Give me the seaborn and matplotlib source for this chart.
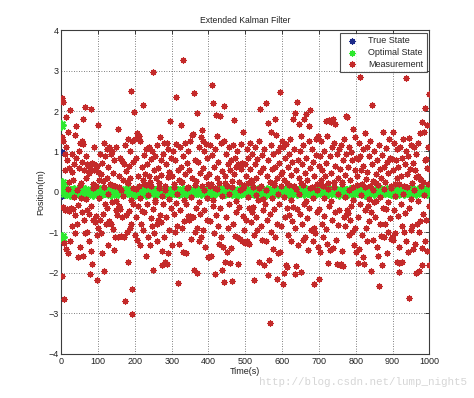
import numpy as np
import pandas as pd
import matplotlib
matplotlib.use("Agg")
import matplotlib.pyplot as plt
import seaborn as sns

meas_000 = [(1,1.30),(2,2.31),(3,1.36),(3,-2.07),(4,1.25),(5,-0.38),(6,2.22),(7,-2.63),(8,-1.25),(9,0.55),
            (10,0.95),(11,-0.45),(12,1.10),(13,1.84),(14,-1.40),(15,0.80),(16,-0.42),(18,-1.50),(19,1.49),(20,0.60),
            (21,-0.48),(22,0.25),(24,2.02),(25,-1.20),(26,-0.40),(28,0.50),(29,-0.85),(30,0.95),(31,-0.42),(33,0.30),
            (35,0.70),(36,1.40),(37,-0.58),(38,-1.02),(40,1.63),(41,0.85),(42,-0.80),(44,0.05),(45,-0.32),(46,-1.60),
            (47,1.00),(48,0.60),(50,-1.35),(51,0.18),(52,1.20),(53,-0.15),(55,1.25),(56,-0.50),(57,0.75),(58,-1.58),
            (59,1.80),(60,1.18),(61,-0.70),(62,0.55),(64,2.09),(65,-1.02),(66,0.90),(68,0.35),(69,-0.45),(70,0.70),
            (71,-0.98),(73,0.65),(74,-0.55),(75,-1.20),(76,0.48),(78,-2.03),(79,0.60),(80,-0.35),(81,2.06),(82,-1.45),
            (83,-1.79),(84,0.72),(85,0.20),(86,-0.70),(88,0.55),(89,1.10),(90,0.70),(91,-0.75),(93,0.15),(94,-0.60),
            (96,-2.18),(97,0.65),(98,-1.05),(99,0.50),(100,1.65),(100,-0.90)]
meas_100 = [(102,0.30),(104,-0.68),(106,0.95),(107,-1.02),(109,0.45),(110,-1.50),(111,0.72),(113,-0.55),(115,1.20),(116,-1.95),
            (117,0.12),(118,-0.30),(120,0.88),(121,-0.78),(123,1.05),(124,0.35),(125,-0.40),(127,-1.30),(128,0.62),(130,1.12),
            (131,-0.72),(133,0.20),(134,-0.80),(136,0.95),(137,-0.25),(139,1.02),(140,-0.92),(141,0.48),(143,-1.42),(144,0.78),
            (145,-1.12),(147,0.15),(148,-0.45),(150,1.10),(151,-0.58),(153,1.56),(154,-1.10),(156,0.40),(157,-0.35),(159,0.85),
            (160,-0.42),(162,0.05),(163,-1.08),(165,0.76),(166,-0.62),(168,0.30),(170,-1.12),(171,0.70),(172,-2.70),(174,1.15),
            (175,-0.58),(177,0.52),(178,-1.00),(180,0.22),(181,1.30),(182,-1.74),(183,-0.48),(185,0.65),(186,-0.90),(187,1.00),
            (188,0.35),(190,2.50),(190,-0.80),(191,1.25),(192,-2.40),(192,-3.02),(194,0.10),(195,-0.30),(196,0.75),(198,1.97),
            (199,-1.05),(200,1.30)]
meas_200 = [(202,-0.62),(203,0.85),(205,1.45),(206,-1.18),(208,0.40),(209,-0.35),(211,1.38),(212,0.15),(214,-1.30),(215,1.25),
            (216,-0.78),(218,0.62),(219,-0.48),(221,0.30),(222,2.14),(223,-0.95),(225,0.92),(226,-0.50),(227,0.45),(229,-1.58),
            (230,0.18),(231,1.05),(233,-0.30),(234,0.70),(236,-1.12),(237,0.40),(239,1.10),(240,-1.30),(241,0.25),(243,-0.65),
            (244,0.82),(246,-0.85),(247,1.00),(248,2.97),(249,-0.42),(250,-1.92),(251,0.55),(253,-1.02),(254,0.90),(256,-0.20),
            (257,0.35),(259,-0.78),(260,1.15),(261,-1.20),(263,0.60),(264,-0.70),(266,0.10),(267,1.35),(268,-0.58),(270,0.80),
            (271,-0.75),(272,0.42),(274,-1.80),(275,-1.45),(276,0.95),(277,-0.30),(279,1.20),(280,-1.10),(281,0.15),(282,-1.74),
            (284,0.68),(285,-0.62),(286,1.22),(288,-1.77),(289,0.38),(290,-1.50),(291,1.05),(293,-0.95),(294,0.50),(296,1.75),
            (297,-0.40),(299,0.85)]
meas_300 = [(301,0.40),(302,-1.32),(304,1.02),(305,-0.55),(307,0.20),(308,-1.00),(310,0.78),(311,-0.28),(312,2.35),(313,1.18),
            (315,-0.85),(316,0.55),(318,-2.24),(319,0.30),(320,-1.28),(322,1.10),(323,-0.45),(325,1.65),(326,0.62),(327,-0.90),
            (329,0.25),(330,-1.48),(331,3.27),(332,0.90),(334,-0.72),(335,0.45),(337,1.20),(338,-0.30),(340,-1.50),(341,0.72),
            (343,-0.60),(344,1.02),(345,0.12),(347,-0.68),(348,0.55),(350,-0.60),(351,1.25),(353,-1.15),(354,1.41),(356,0.35),
            (357,1.42),(358,-0.62),(360,-1.93),(361,2.45),(362,0.80),(363,-1.00),(365,0.28),(366,-0.40),(368,-1.99),(369,1.96),
            (370,-0.88),(371,0.75),(373,1.10),(374,-1.22),(376,0.48),(377,-0.55),(379,1.35),(380,-1.10),(381,1.53),(382,0.15),
            (384,-0.95),(385,1.25),(386,0.60),(388,-0.45),(389,1.00),(390,-1.35),(392,0.38),(393,1.18),(395,-0.70),(396,0.85),
            (398,-1.60),(399,0.20)]
meas_400 = [(401,-1.60),(402,0.45),(404,1.15),(405,-0.72),(406,0.20),(408,-1.58),(409,0.92),(410,2.63),(411,-0.35),(413,2.20),
            (414,0.62),(415,-1.02),(417,1.05),(418,0.10),(419,-2.03),(420,-0.58),(421,1.90),(422,0.35),(424,1.39),(425,-0.85),
            (427,0.75),(428,-1.28),(429,0.22),(431,1.88),(432,-0.40),(434,1.20),(435,-1.10),(437,-1.93),(438,0.52),(440,-1.35),
            (441,1.25),(442,-2.23),(443,2.12),(444,0.40),(446,-1.73),(447,-0.62),(448,0.95),(450,-1.48),(451,0.15),(452,0.68),
            (454,-0.90),(455,1.10),(457,-0.30),(458,0.55),(459,-1.75),(461,0.80),(462,-1.38),(463,0.28),(465,-2.21),(466,1.15),
            (467,-0.78),(469,0.45),(470,1.78),(471,-1.08),(473,0.85),(474,-0.50),(476,0.62),(477,1.02),(478,-1.12),(480,-1.77),
            (481,0.70),(482,-0.38),(484,0.25),(485,-1.15),(487,1.18),(488,0.58),(490,-1.22),(491,0.72),(493,-0.60),(494,0.10),
            (495,1.47),(496,-0.95),(498,0.70),(499,-1.25)]
meas_500 = [(501,0.40),(502,-0.68),(504,1.05),(505,-1.20),(506,0.22),(508,0.85),(509,-0.40),(510,-1.28),(512,0.58),(513,1.20),
            (515,-0.75),(516,0.30),(518,-0.50),(519,0.95),(520,-0.38),(522,0.12),(523,-1.05),(525,-2.17),(526,0.70),(527,1.10),
            (529,-0.62),(530,0.35),(532,-0.95),(533,0.82),(535,-0.20),(536,1.25),(538,-1.72),(539,2.04),(540,0.50),(542,-0.85),
            (543,0.15),(545,-1.18),(546,0.92),(548,-0.45),(549,0.60),(551,-1.80),(552,1.05),(554,-0.30),(555,2.20),(556,-1.20),
            (558,0.40),(559,-0.70),(561,1.71),(562,-2.04),(563,0.78),(565,-1.68),(566,0.25),(567,-0.55),(568,-3.24),(569,1.15),
            (570,1.47),(571,-0.98),(573,0.58),(574,-1.40),(576,0.95),(577,-0.42),(579,0.18),(580,-1.10),(581,1.81),(582,0.62),
            (583,1.41),(585,-0.78),(586,0.35),(587,-2.16),(588,1.02),(590,-1.50),(591,0.72),(592,-0.30),(593,2.48),(594,1.10),
            (595,-1.48),(597,0.45),(598,-0.85),(599,1.25)]
meas_600 = [(601,0.50),(602,-2.28),(603,1.12),(605,-1.99),(606,0.30),(607,-0.62),(609,0.85),(610,-1.80),(611,1.18),(612,-0.40),
            (614,-1.85),(615,0.62),(616,-1.05),(618,0.18),(619,0.95),(620,-0.58),(622,1.30),(623,-1.22),(624,0.42),(626,-0.72),
            (627,0.75),(629,1.81),(630,-0.38),(631,0.15),(633,1.05),(634,-2.03),(635,1.96),(636,-0.90),(638,0.55),(639,-1.83),
            (640,-0.42),(641,2.23),(642,0.80),(644,-1.30),(645,0.35),(646,1.67),(648,-0.55),(649,1.00),(651,-1.97),(651,1.38),
            (652,0.22),(654,-0.80),(655,0.68),(657,-1.18),(658,1.15),(659,1.81),(660,-0.30),(662,0.48),(663,-1.10),(665,1.93),
            (666,0.85),(668,-0.65),(669,0.30),(671,-1.42),(672,1.25),(673,1.63),(674,-0.40),(676,2.02),(677,0.60),(679,-0.95),
            (680,1.05),(681,0.12),(683,-1.20),(684,0.75),(686,-2.27),(687,-0.88),(688,0.40),(690,-1.02),(691,0.92),(692,1.32),
            (694,-0.50),(695,0.20),(697,1.38),(698,-1.35),(699,-2.15),(700,0.65)]
meas_700 = [(701,-0.42),(702,0.90),(704,-1.48),(705,0.30),(706,1.25),(708,-0.78),(709,0.55),(711,-1.10),(712,0.15),(714,1.02),
            (715,-0.60),(716,0.40),(718,1.75),(719,-0.92),(720,0.72),(722,1.38),(723,-1.28),(724,0.22),(726,-1.75),(727,-0.35),
            (728,1.78),(729,0.88),(731,-1.42),(732,0.48),(734,1.72),(735,-0.70),(736,1.10),(737,1.80),(739,-1.38),(740,0.25),
            (741,1.22),(743,-0.50),(744,0.65),(745,1.68),(747,-1.18),(748,0.95),(750,-1.77),(751,0.35),(752,-0.82),(754,1.05),
            (755,-0.45),(757,-1.81),(758,0.58),(759,-1.78),(760,1.15),(762,-1.45),(763,0.20),(765,-1.83),(766,0.80),(767,-0.62),
            (769,1.30),(770,-0.85),(771,0.42),(773,-0.58),(774,0.95),(775,1.88),(776,1.85),(777,-0.45),(779,0.62),(780,-0.52),
            (781,1.12),(783,-1.05),(784,0.30),(785,-0.70),(787,0.98),(788,-0.35),(790,0.78),(791,-1.00),(792,1.56),(794,0.12),
            (795,-1.30),(797,0.55),(798,-0.88),(799,1.35)]
meas_800 = [(801,0.85),(802,-1.48),(804,0.40),(805,-0.62),(806,0.82),(807,-1.75),(809,1.20),(810,-1.40),(811,0.88),(812,2.83),
            (813,-0.30),(815,0.55),(816,-1.05),(818,0.20),(819,1.05),(820,-1.60),(821,0.65),(823,-1.78),(824,-0.45),(825,1.45),
            (827,0.32),(828,-0.90),(830,1.10),(831,-1.20),(832,0.50),(834,-0.35),(835,0.90),(837,-0.72),(838,0.15),(840,1.25),
            (841,-1.95),(842,-0.50),(843,2.16),(845,0.70),(846,-1.18),(848,0.28),(849,-0.25),(851,1.02),(852,-0.62),(854,0.45),
            (855,-0.22),(857,-1.35),(858,0.80),(860,-1.58),(861,0.18),(862,-2.32),(864,1.15),(865,-0.80),(866,0.58),(868,-1.08),
            (869,0.35),(871,-1.80),(872,0.92),(873,-0.40),(875,1.49),(876,-1.12),(877,0.62),(879,-0.78),(880,0.25),(882,1.08),
            (883,-0.42),(885,0.75),(886,-1.50),(888,0.48),(889,-1.00),(890,1.30),(892,-0.65),(893,0.85),(895,-1.15),(896,0.10),
            (898,-1.12),(899,0.82),(900,1.49)]
meas_900 = [(901,-1.18),(902,0.55),(904,-0.45),(905,1.20),(906,0.20),(908,-1.02),(909,0.78),(911,-1.72),(912,0.35),(913,1.05),
            (915,-0.60),(916,0.62),(918,-1.35),(919,-1.97),(919,-1.76),(920,1.12),(922,-0.30),(923,0.40),(925,-1.72),(926,0.85),
            (927,-0.85),(929,1.30),(930,-1.00),(931,0.15),(933,0.68),(934,-0.52),(936,1.00),(937,-1.20),(938,2.82),(939,0.45),
            (941,-1.48),(942,0.90),(944,1.33),(945,-0.40),(946,-2.61),(948,0.58),(949,-0.95),(951,1.15),(952,0.22),(954,-0.85),
            (955,0.72),(957,-1.40),(958,1.10),(960,0.55),(961,-1.28),(963,0.95),(964,-1.99),(965,0.38),(967,-0.78),(968,1.20),
            (970,0.40),(971,-1.96),(972,-1.00),(974,0.32),(975,-0.72),(976,1.45),(978,0.30),(979,-1.38),(980,-1.80),(981,1.74),
            (983,0.25),(984,-0.55),(985,1.48),(987,0.78),(988,2.07),(989,-1.20),(990,0.82),(991,-0.70),(993,1.65),(994,-1.45),
            (995,0.60),(997,1.10),(998,2.43),(999,0.58),(1000,-1.80),(1000,-0.35)]
# measurements sitting on top of the green band
meas_mid = [(17,0.08),(34,-0.12),(54,0.22),(67,-0.18),(87,0.10),(103,-0.15),(114,0.28),(126,-0.05),(138,0.18),(149,-0.22),
            (158,0.12),(169,-0.10),(179,0.25),(189,-0.20),(204,0.08),(213,-0.15),(224,0.20),(235,-0.08),(245,0.15),(255,-0.25),
            (265,0.22),(273,-0.10),(283,0.05),(292,-0.18),(306,0.12),(314,-0.05),(324,0.25),(333,-0.20),(342,0.10),(352,-0.12),
            (364,0.18),(375,-0.25),(387,0.05),(397,-0.15),(403,0.15),(412,-0.20),(423,0.08),(436,-0.10),(445,0.22),(456,-0.05),
            (464,0.12),(475,-0.22),(486,0.05),(497,0.18),(507,-0.12),(517,0.25),(528,-0.08),(537,0.10),(547,-0.18),(557,0.05),
            (572,-0.15),(578,0.22),(589,-0.05),(596,0.15),(604,-0.12),(613,0.22),(625,-0.20),(637,0.08),(647,-0.05),(656,0.18),
            (664,-0.22),(675,0.10),(685,-0.15),(696,0.05),(703,0.20),(713,-0.15),(725,0.08),(733,-0.22),(742,0.12),(753,-0.05),
            (764,0.25),(772,-0.12),(782,0.05),(793,-0.20),(803,0.18),(814,-0.08),(826,0.12),(836,-0.18),(847,0.05),(856,0.22),
            (867,-0.12),(878,0.08),(887,-0.25),(897,0.15),(907,-0.10),(917,0.20),(928,-0.05),(940,0.12),(950,-0.18),(959,0.05),
            (969,-0.22),(977,0.15),(986,-0.08),(996,0.20)]

# optimal state: first few estimates, then the narrow band around zero (every 5 s)
opt_head_t = [0, 1, 2]
opt_head_y = [1.65, 0.22, -1.12]
opt_band_y = [0.03,-0.02,0.05,0.01,-0.04,0.02,0.06,-0.01,0.00,0.04,
              -0.03,0.02,0.05,-0.02,0.01,0.03,-0.05,0.04,0.00,0.02,
              0.06,-0.03,0.01,0.04,-0.01,0.03,-0.04,0.02,0.05,0.00,
              -0.02,0.04,0.01,-0.03,0.06,0.02,-0.01,0.03,0.00,-0.04,
              0.05,0.01,-0.02,0.04,0.03,-0.05,0.02,0.00,0.06,-0.01,
              0.02,-0.03,0.04,0.01,-0.02,0.05,0.00,-0.04,0.03,0.02,
              -0.01,0.06,0.02,-0.03,0.01,0.04,-0.02,0.03,0.05,-0.04,
              0.00,0.02,-0.01,0.05,0.03,-0.03,0.04,0.01,-0.02,0.06,
              0.02,-0.04,0.03,0.00,0.05,-0.01,0.02,0.04,-0.03,0.01,
              0.06,0.00,-0.02,0.03,0.01,-0.05,0.04,0.02,-0.01,0.03,
              0.05,-0.02,0.00,0.04,-0.03,0.02,0.06,-0.01,0.03,0.01,
              -0.04,0.05,0.02,-0.02,0.04,0.00,0.03,-0.03,0.06,0.01,
              -0.01,0.02,0.05,-0.04,0.03,0.00,0.04,-0.02,0.01,0.05,
              0.02,-0.03,0.06,0.01,-0.01,0.04,-0.05,0.03,0.00,0.02,
              0.04,-0.02,0.01,0.05,-0.03,0.03,0.00,0.06,-0.01,0.02,
              -0.04,0.03,0.05,0.00,0.02,-0.02,0.04,0.01,-0.03,0.06,
              0.01,0.04,-0.01,0.03,-0.04,0.05,0.02,0.00,0.03,-0.02,
              0.06,0.01,-0.03,0.04,0.02,-0.01,0.05,0.00,-0.02,0.03,
              0.02,-0.04,0.04,0.01,0.06,-0.02,0.03,0.00,-0.01,0.05,
              0.03,0.00,-0.03,0.04,0.02,-0.01,0.05,0.01,-0.02,0.02]

# true state: visible start, the rest hides under the green band (every 20 s)
true_head_t = [1, 2]
true_head_y = [0.99, -0.10]
true_band_y = [0.01,-0.01,0.02,0.00,-0.02,0.01,0.02,-0.01,0.00,0.01,
               -0.02,0.02,0.00,0.01,-0.01,0.02,0.01,-0.02,0.00,0.01,
               0.02,-0.01,0.00,0.01,-0.02,0.02,0.01,0.00,-0.01,0.02,
               0.00,0.01,-0.02,0.02,0.01,-0.01,0.00,0.02,0.01,-0.01,
               0.02,0.00,-0.01,0.01,0.02,-0.02,0.01,0.00,0.01,-0.01]

meas = pd.DataFrame(meas_000 + meas_100 + meas_200 + meas_300 + meas_400 +
                    meas_500 + meas_600 + meas_700 + meas_800 + meas_900 + meas_mid,
                    columns=["t", "y"])
opt = pd.DataFrame({"t": opt_head_t + list(range(5, 1001, 5)),
                    "y": opt_head_y + opt_band_y})
true = pd.DataFrame({"t": true_head_t + list(range(20, 1001, 20)),
                     "y": true_head_y + true_band_y})

sns.set_style("white")
plt.rcParams["font.family"] = ["Liberation Sans", "DejaVu Sans"]

fig = plt.figure(figsize=(4.74, 3.98), dpi=100)
ax = fig.add_axes([0.1293, 0.1106, 0.7764, 0.814])

star = (8, 2, 0)
sns.scatterplot(data=true, x="t", y="y", marker=star, s=16, color="#1c2a8a",
                edgecolor="#1c2a8a", linewidth=0.9, label="True State", ax=ax, zorder=3)
sns.scatterplot(data=opt, x="t", y="y", marker=star, s=38, color="#2ee82e",
                edgecolor="#2ee82e", linewidth=1.6, label="Optimal State", ax=ax, zorder=4)
sns.scatterplot(data=meas, x="t", y="y", marker=star, s=16, color="#c42a2a",
                edgecolor="#c42a2a", linewidth=0.9, label="Measurement", ax=ax, zorder=5)

ax.set_xlim(0, 1000)
ax.set_ylim(-4, 4)
ax.set_xticks(np.arange(0, 1001, 100))
ax.set_yticks(np.arange(-4, 5, 1))
ax.grid(True, linestyle=(0, (1, 2)), color="#555555", linewidth=0.6)
ax.set_axisbelow(True)
for sp in ax.spines.values():
    sp.set_color("#3c3c3c")
    sp.set_linewidth(0.8)
ax.tick_params(direction="in", length=3, width=0.6, top=True, right=True,
               labelsize=6.5, pad=2, colors="#222222")

ax.set_title("Extended Kalman Filter", fontsize=6.2, pad=5, color="#222222")
ax.set_xlabel("Time(s)", fontsize=6.5, labelpad=1, color="#222222")
ax.set_ylabel("Position(m)", fontsize=6.5, labelpad=2, color="#222222")

leg = ax.legend(loc="upper right", fontsize=6.5, frameon=True, fancybox=False,
                borderaxespad=0.3, handletextpad=0.9, labelspacing=0.3,
                borderpad=0.4, handlelength=1.8)
# same marker size for all three legend entries
for h in leg.legend_handles:
    h.set_sizes([16])
    h.set_linewidth(0.9)
leg.get_frame().set_edgecolor("#222222")
leg.get_frame().set_linewidth(0.8)
leg.set_zorder(10)

fig.text(0.985, 0.028, "http://blog.csdn.net/lump_night5", ha="right", va="bottom",
         fontsize=7.8, color="#d6d6d6", family=["Liberation Mono", "DejaVu Sans Mono"])

fig.savefig("out.png", dpi=100, facecolor="white")
